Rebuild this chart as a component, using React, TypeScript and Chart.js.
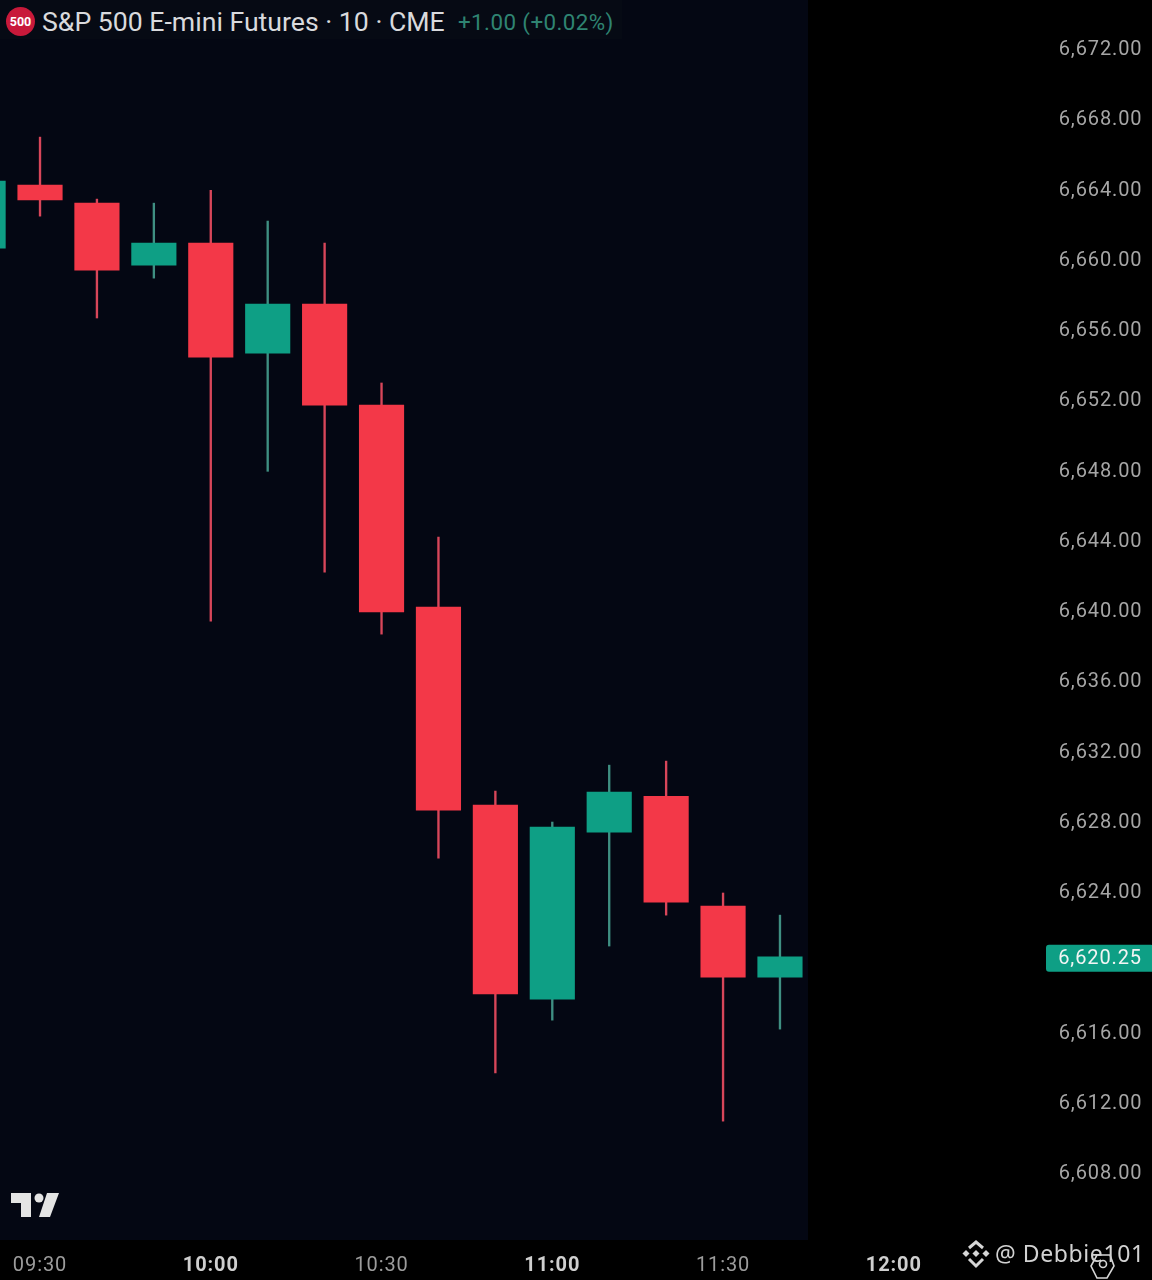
import React, { useEffect, useRef } from "react";
import { Chart, registerables } from "chart.js";

Chart.register(...registerables);

// Bar start times, minutes after midnight
const barMinutes = [560, 570, 580, 590, 600, 610, 620, 630, 640, 650, 660, 670, 680, 690, 700];
const opens = [6660.72, 6664.31, 6663.28, 6659.75, 6661.01, 6654.74, 6657.53, 6651.78, 6640.28, 6629.01, 6617.96, 6627.47, 6629.51, 6623.26, 6619.21];
const highs = [6666.11, 6667.04, 6663.51, 6663.28, 6664.01, 6662.26, 6661.01, 6653.04, 6644.27, 6629.81, 6628.04, 6631.28, 6631.51, 6624, 6622.74];
const lows = [6659.11, 6662.54, 6656.74, 6659.01, 6639.48, 6648.01, 6642.27, 6638.74, 6625.99, 6613.75, 6616.76, 6620.98, 6622.74, 6611.01, 6616.25];
const closes = [6664.54, 6663.46, 6659.47, 6661.01, 6654.51, 6657.53, 6651.78, 6640, 6628.72, 6618.25, 6627.75, 6629.75, 6623.48, 6619.21, 6620.36];

const yTickValues = [6672, 6668, 6664, 6660, 6656, 6652, 6648, 6644, 6640, 6636, 6632, 6628, 6624, 6616, 6612, 6608];
const xTickMinutes = [570, 600, 630, 660, 690, 720];
const xTickLabels = ["09:30", "10:00", "10:30", "11:00", "11:30", "12:00"];
const lastPrice = 6620.25;
const lastPriceLabel = "6,620.25";

const titleText = "S&P 500 E-mini Futures · 10 · CME";
const changeText = "+1.00 (+0.02%)";
const watermarkText = "@ Debbie101";

const RED = "#F33848";
const GREEN = "#0E9F85";
const RED_WICK = "#D8465A";
const GREEN_WICK = "#3F8F82";
const PLOT_BG = "#040713";
const FONT = "Roboto, sans-serif";

const isUp = (i: number) => closes[i] >= opens[i];

const noPadding = (scale: any) => {
  scale.paddingLeft = 0;
  scale.paddingRight = 0;
  scale.paddingTop = 0;
  scale.paddingBottom = 0;
};

const paintPlugin = {
  id: "paint",
  beforeDraw(chart: any) {
    const { ctx, chartArea } = chart;
    ctx.letterSpacing = "0.9px";
    ctx.save();
    ctx.fillStyle = PLOT_BG;
    ctx.fillRect(0, 0, 808, chartArea.bottom);
    ctx.restore();
  },
  afterDraw(chart: any) {
    const { ctx } = chart;
    const y = chart.scales.y.getPixelForValue(lastPrice);
    ctx.save();
    ctx.fillStyle = GREEN;
    ctx.beginPath();
    ctx.roundRect(1046, y - 14, 108, 27, 3);
    ctx.fill();
    ctx.fillStyle = "#F2F5F4";
    ctx.font = `400 20px ${FONT}`;
    ctx.textAlign = "right";
    ctx.textBaseline = "middle";
    ctx.fillText(lastPriceLabel, 1142, y);
    ctx.restore();
  },
};

export default function App() {
  const ref = useRef<HTMLCanvasElement>(null);

  useEffect(() => {
    document.body.style.margin = "0";
    document.body.style.background = "#000";
    const chart = new Chart(ref.current as HTMLCanvasElement, {
      type: "bar",
      plugins: [paintPlugin],
      data: {
        datasets: [
          {
            data: barMinutes.map((x, i) => ({ x, y: [opens[i], closes[i]] })) as any,
            backgroundColor: barMinutes.map((_, i) => (isUp(i) ? GREEN : RED)),
            barThickness: 44.5,
            grouped: false,
            borderWidth: 0,
            borderSkipped: false,
          } as any,
          {
            data: barMinutes.map((x, i) => ({ x, y: [lows[i], highs[i]] })) as any,
            backgroundColor: barMinutes.map((_, i) => (isUp(i) ? GREEN_WICK : RED_WICK)),
            barThickness: 1.7,
            grouped: false,
            borderWidth: 0,
            borderSkipped: false,
          } as any,
        ],
      },
      options: {
        responsive: false,
        animation: false,
        devicePixelRatio: 1,
        layout: { padding: 0 },
        plugins: { legend: { display: false }, tooltip: { enabled: false }, title: { display: false } },
        scales: {
          x: {
            type: "linear",
            offset: false,
            min: 562.97,
            max: 765.36,
            grid: { display: false },
            border: { display: false },
            afterBuildTicks(scale: any) {
              scale.ticks = xTickMinutes.map((value) => ({ value }));
            },
            afterFit(scale: any) {
              scale.height = 40;
              noPadding(scale);
            },
            ticks: {
              autoSkip: false,
              maxRotation: 0,
              padding: 6,
              callback: (_v: any, i: number) => xTickLabels[i],
              font: (c: any) => ({
                family: FONT,
                size: 20,
                weight: c.index % 2 === 1 ? 700 : 400,
              }),
              color: (c: any) => (c.index % 2 === 1 ? "#CFCFCF" : "#9C9C9C"),
            },
          },
          y: {
            type: "linear",
            position: "right",
            min: 6604.242,
            max: 6674.847,
            grid: { display: false },
            border: { display: false },
            afterBuildTicks(scale: any) {
              scale.ticks = yTickValues.map((value) => ({ value }));
            },
            afterFit(scale: any) {
              scale.width = 0;
              noPadding(scale);
            },
            ticks: {
              mirror: true,
              padding: -9.5,
              autoSkip: false,
              callback: (v: any) =>
                Number(v).toLocaleString("en-US", { minimumFractionDigits: 2, maximumFractionDigits: 2 }),
              font: { family: FONT, size: 20, weight: 400 },
              color: "#A6A6A6",
            },
          },
        },
      },
    } as any);
    return () => chart.destroy();
  }, []);

  return (
    <div style={{ position: "relative", width: 1152, height: 1280, overflow: "hidden", background: "#000" }}>
      <canvas ref={ref} width={1152} height={1280} style={{ display: "block", width: 1152, height: 1280 }} />

      <div style={{ position: "absolute", left: 0, top: 0, width: 622, height: 39, background: "#060A14" }} />
      <div
        style={{
          position: "absolute", left: 6, top: 7, width: 29, height: 29, borderRadius: "50%", background: "#C8193A",
          color: "#fff", font: `700 12.5px ${FONT}`, textAlign: "center", lineHeight: "29px",
        }}
      >
        500
      </div>
      <div style={{ position: "absolute", left: 42, top: 6, whiteSpace: "nowrap", font: `400 26.65px/32px ${FONT}`, color: "#D9DADD" }}>
        {titleText}
      </div>
      <div style={{ position: "absolute", left: 458, top: 6, whiteSpace: "nowrap", font: `400 22.4px/32px ${FONT}`, letterSpacing: "0.4px", color: "#2F8472" }}>
        {changeText}
      </div>

      <svg style={{ position: "absolute", left: 0, top: 0 }} width={1152} height={1280} viewBox="0 0 1152 1280">
        <path d="M11 1193H31V1217H21V1203H11Z" fill="#E4E4E4" />
        <circle cx={39} cy={1198} r={4.5} fill="#E4E4E4" />
        <path d="M47 1193H59L50 1217H39Z" fill="#E4E4E4" />
        <g fill="none" stroke="#D6D6D6" strokeWidth={3}>
          <path d="M969 1248L976 1242L983 1248" />
          <path d="M969 1259L976 1266L983 1259" />
        </g>
        <g fill="#D6D6D6">
          <rect x={963.5} y={1251} width={5} height={5} transform="rotate(45 966 1253.5)" />
          <rect x={973.5} y={1251} width={5} height={5} transform="rotate(45 976 1253.5)" />
          <rect x={983.5} y={1251} width={5} height={5} transform="rotate(45 986 1253.5)" />
        </g>
        <g fill="none" stroke="#D6D6D6" strokeWidth={1.6}>
          <path d="M1097 1255H1110L1114 1266L1107 1278H1097L1091 1266Z" />
          <circle cx={1103} cy={1264} r={3.5} />
        </g>
      </svg>
      <div style={{ position: "absolute", left: 995, top: 1237, whiteSpace: "nowrap", font: `400 23px/32px "Noto Sans", sans-serif`, letterSpacing: "0.6px", color: "#D2D2D2" }}>
        {watermarkText}
      </div>
    </div>
  );
}
